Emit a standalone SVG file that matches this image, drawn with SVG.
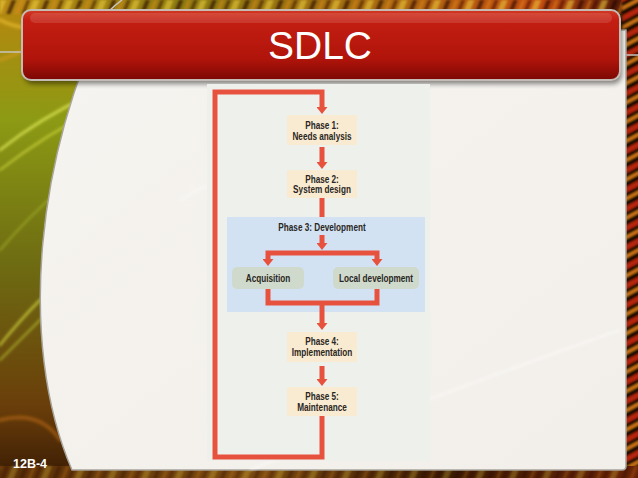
<svg xmlns="http://www.w3.org/2000/svg" width="638" height="478" viewBox="0 0 638 478">
<defs>
<style>
.t{font-family:"Liberation Sans",Arial,sans-serif;font-weight:bold;font-size:10px;fill:#2a2622;text-anchor:middle}
.box{fill:#f9ebd1}
.sub{fill:#cfdacd}
.c{fill:none;stroke:#e7523f;stroke-width:5;stroke-linejoin:miter}
.streak{fill:none;stroke-linecap:round}
</style>
<marker id="ah" markerUnits="userSpaceOnUse" viewBox="0 0 7 11" markerWidth="7" markerHeight="11" refX="1" refY="5.5" orient="auto-start-reverse">
<path d="M0,0 L7,5.5 L0,11 Z" fill="#e7523f"/>
</marker>
<linearGradient id="gl" x1="0" y1="0" x2="0" y2="1">
<stop offset="0" stop-color="#b8860e"/>
<stop offset="0.25" stop-color="#8c9a14"/>
<stop offset="0.55" stop-color="#6e6c12"/>
<stop offset="0.85" stop-color="#6a3e0a"/>
<stop offset="1" stop-color="#3a1c04"/>
</linearGradient>
<linearGradient id="gt" x1="0" y1="0" x2="0" y2="1">
<stop offset="0" stop-color="#d23a24"/>
<stop offset="0.15" stop-color="#c41e12"/>
<stop offset="0.7" stop-color="#b0140a"/>
<stop offset="1" stop-color="#7c0804"/>
</linearGradient>
<linearGradient id="gp" x1="0" y1="0" x2="1" y2="1">
<stop offset="0" stop-color="#f6f4f0"/>
<stop offset="1" stop-color="#f2efea"/>
</linearGradient>
<linearGradient id="gtop" x1="0" y1="0" x2="1" y2="0">
<stop offset="0" stop-color="#b88a14"/>
<stop offset="0.3" stop-color="#8a7a10"/>
<stop offset="0.6" stop-color="#a86a10"/>
<stop offset="0.85" stop-color="#c04a10"/>
<stop offset="1" stop-color="#3a1004"/>
</linearGradient>
<pattern id="st" patternUnits="userSpaceOnUse" width="31" height="31" patternTransform="rotate(22)">
<rect x="0" width="6" height="31" fill="#f0d040" opacity="0.55"/>
<rect x="11" width="4" height="31" fill="#200a02" opacity="0.6"/>
<rect x="19" width="3" height="31" fill="#e88a20" opacity="0.5"/>
<rect x="25" width="3" height="31" fill="#300c02" opacity="0.5"/>
</pattern>
<pattern id="sr" patternUnits="userSpaceOnUse" width="17" height="17" patternTransform="rotate(62)">
<rect width="17" height="17" fill="#140802"/>
<rect x="0" width="5" height="17" fill="#b8280a"/>
<rect x="9" width="3" height="17" fill="#d87a18"/>
</pattern>
<linearGradient id="gb" x1="0" y1="0" x2="1" y2="0">
<stop offset="0" stop-color="#5a3008"/>
<stop offset="0.4" stop-color="#7a4a10"/>
<stop offset="0.7" stop-color="#3a1a04"/>
<stop offset="1" stop-color="#6a2408"/>
</linearGradient>
<filter id="bl" x="-20%" y="-20%" width="140%" height="140%"><feGaussianBlur stdDeviation="1.5"/></filter>
<filter id="bs" x="-5%" y="-50%" width="110%" height="200%"><feGaussianBlur stdDeviation="0.8"/></filter>
<filter id="sh" x="-5%" y="-20%" width="110%" height="150%"><feGaussianBlur stdDeviation="2.5"/></filter>
</defs>

<g id="background">
<rect width="638" height="478" fill="#3a2406"/>
<rect width="140" height="478" fill="url(#gl)"/>
<rect width="638" height="14" fill="url(#gtop)"/>
<rect width="638" height="14" fill="url(#st)" filter="url(#bs)"/>
<rect x="622" y="-2" width="18" height="482" fill="url(#sr)" filter="url(#bs)"/>
<rect y="466" width="638" height="12" fill="url(#gb)"/>
<rect y="466" width="638" height="14" fill="url(#st)" opacity="0.5" filter="url(#bs)"/>
<g filter="url(#bl)">
<path class="streak" d="M0,150 Q40,118 90,95" stroke="#e4ec5a" stroke-width="2.5" opacity="0.8"/>
<path class="streak" d="M0,170 Q45,135 95,110" stroke="#d8e040" stroke-width="2" opacity="0.7"/>
<path class="streak" d="M0,250 Q30,215 60,190" stroke="#b8c830" stroke-width="2" opacity="0.5"/>
<path class="streak" d="M0,345 Q20,320 40,300" stroke="#d8e040" stroke-width="2.5" opacity="0.7"/>
<path class="streak" d="M0,360 Q25,335 45,315" stroke="#c8d838" stroke-width="2" opacity="0.6"/>
<path class="streak" d="M0,20 Q40,40 80,10" stroke="#f0c030" stroke-width="4" opacity="0.6"/>
<path class="streak" d="M0,60 Q30,50 60,30" stroke="#e8a020" stroke-width="3" opacity="0.5"/>
<path class="streak" d="M0,420 Q40,410 60,440" stroke="#c8701a" stroke-width="4" opacity="0.5"/>
</g>
<line x1="0" y1="52" x2="24" y2="52" stroke="#c8c4bc" stroke-width="1.5"/>
<line x1="618" y1="55" x2="638" y2="55" stroke="#c8c4bc" stroke-width="1.5"/>
</g>

<g id="panel">
<path d="M108,10 C38,150 16,340 72,470 H622 Q626,470 626,466 V30 L108,30 Z" fill="url(#gp)" stroke="#a8a49c" stroke-width="1.5"/>
<path d="M122,0 Q114,6 108,12" fill="none" stroke="#c8c4bc" stroke-width="1.5"/>
<path d="M250,470 Q420,400 620,330" fill="none" stroke="#ffffff" stroke-width="2" opacity="0.5" filter="url(#bl)"/>
<path d="M180,200 Q320,120 420,150" fill="none" stroke="#ffffff" stroke-width="2" opacity="0.4" filter="url(#bl)"/>
</g>

<g id="title">
<rect x="24" y="14" width="598" height="70" rx="9" fill="#000" opacity="0.45" filter="url(#sh)"/>
<rect x="22" y="10" width="598" height="70" rx="9" fill="url(#gt)" stroke="#c4bcb4" stroke-width="2"/>
<rect x="30" y="13" width="582" height="10" rx="5" fill="#ffffff" opacity="0.12"/>
<text x="320" y="59" font-family="'Liberation Sans',Arial,sans-serif" font-size="39" fill="#ffffff" text-anchor="middle">SDLC</text>
</g>

<g id="figure">
<rect x="207" y="84" width="223" height="377" fill="#eef0ec"/>
</g>

<g id="phase3">
<rect x="227" y="217" width="198" height="95" fill="#d3e2f3"/>
<text class="t" transform="translate(322,231) scale(0.82,1)">Phase 3: Development</text>
</g>

<g id="connectors">
<path class="c" d="M322,416 V457 H215 V92 H322 V108" marker-end="url(#ah)"/>
<path class="c" d="M322,147 V163" marker-end="url(#ah)"/>
<path class="c" d="M322,198 V217"/>
<path class="c" d="M322,235 V244" marker-end="url(#ah)"/>
<path class="c" d="M268,260 V253 H377 V260" marker-start="url(#ah)" marker-end="url(#ah)"/>
<path class="c" d="M268,289 V303 H377 V289"/>
<path class="c" d="M322,303 V324" marker-end="url(#ah)"/>
<path class="c" d="M322,366 V380" marker-end="url(#ah)"/>
</g>

<g id="phase1">
<rect class="box" x="287" y="115" width="70" height="30"/>
<text class="t" transform="translate(322,129) scale(0.82,1)"><tspan x="0">Phase 1:</tspan><tspan x="0" dy="11">Needs analysis</tspan></text>
</g>
<g id="phase2">
<rect class="box" x="287" y="170" width="70" height="28"/>
<text class="t" transform="translate(322,183) scale(0.82,1)"><tspan x="0">Phase 2:</tspan><tspan x="0" dy="10.5">System design</tspan></text>
</g>
<g id="acquisition">
<rect class="sub" x="232" y="267" width="72" height="22" rx="5"/>
<text class="t" transform="translate(268,282) scale(0.82,1)">Acquisition</text>
</g>
<g id="local-development">
<rect class="sub" x="333" y="267" width="86" height="22" rx="5"/>
<text class="t" transform="translate(376,282) scale(0.82,1)">Local development</text>
</g>
<g id="phase4">
<rect class="box" x="287" y="332" width="70" height="30"/>
<text class="t" transform="translate(322,345) scale(0.82,1)"><tspan x="0">Phase 4:</tspan><tspan x="0" dy="11">Implementation</tspan></text>
</g>
<g id="phase5">
<rect class="box" x="287" y="387" width="70" height="29"/>
<text class="t" transform="translate(322,400) scale(0.82,1)"><tspan x="0">Phase 5:</tspan><tspan x="0" dy="11">Maintenance</tspan></text>
</g>

<text x="13" y="468" font-family="'Liberation Sans',Arial,sans-serif" font-weight="bold" font-size="12.5" fill="#ffffff">12B-4</text>
</svg>
